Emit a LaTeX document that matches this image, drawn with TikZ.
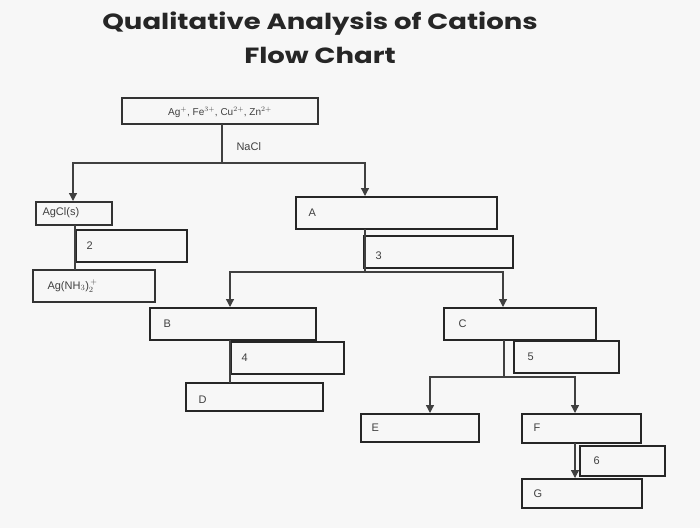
\documentclass[tikz,border=0pt]{standalone}
\usepackage{fontspec}
\setmainfont{Liberation Sans}
\newfontfamily\titlefont{Poppins}
\usetikzlibrary{arrows.meta}
\begin{document}
\begin{tikzpicture}[x=1pt,y=-1pt,
  thin box/.style={draw=black!80,line width=1.2pt},
  thick box/.style={draw=black!85,line width=2.2pt},
  lbl/.style={font=\fontsize{11}{13}\selectfont,text=black!75,anchor=west},
  conn/.style={draw=black!75,line width=1.3pt},
  arr/.style={conn,-{Triangle[length=8pt,width=8pt]}},
  ttl/.style={font=\titlefont\bfseries\fontsize{22}{26}\selectfont,text=black!85}]
\fill[gray!6] (0,0) rectangle (700,528);
\useasboundingbox (0,0) rectangle (700,528);
\node[ttl] (t1) at (320,24) {\scalebox{1.25}[1]{Qualitative Analysis of Cations}};
\node[ttl] (t2) at (320,55) {\scalebox{1.25}[1]{Flow Chart}};
% boxes
\draw[thin box] (122,98) rectangle (318,124);
\node[font=\fontsize{10}{12}\selectfont,text=black!75] (top) at (220,112) {Ag$^{+}$, Fe$^{3+}$, Cu$^{2+}$, Zn$^{2+}$};
\node[lbl] (nacl) at (233,147) {NaCl};
\draw[thin box] (36,202) rectangle (112,225); \node[lbl] (agcl) at (39,213) {AgCl(s)};
\draw[thick box] (76,230) rectangle (187,262); \node[lbl] (b2) at (83,246) {2};
\draw[thin box] (33,270) rectangle (155,302); \node[lbl] (agnh) at (44,286) {Ag(NH$_3$)$_2^{\,+}$};
\draw[thick box] (296,197) rectangle (497,229); \node[lbl] (bA) at (305,213) {A};
\draw[thick box] (364,236) rectangle (513,268); \node[lbl] (b3) at (372,256) {3};
\draw[thick box] (150,308) rectangle (316,340); \node[lbl] (bB) at (160,324) {B};
\draw[thick box] (444,308) rectangle (596,340); \node[lbl] (bC) at (455,324) {C};
\draw[thick box] (231,342) rectangle (344,374); \node[lbl] (b4) at (238,358) {4};
\draw[thick box] (514,341) rectangle (619,373); \node[lbl] (b5) at (524,357) {5};
\draw[thick box] (186,383) rectangle (323,411); \node[lbl] (bD) at (195,400) {D};
\draw[thick box] (361,414) rectangle (479,442); \node[lbl] (bE) at (368,428) {E};
\draw[thick box] (522,414) rectangle (641,443); \node[lbl] (bF) at (530,428) {F};
\draw[thick box] (580,446) rectangle (665,476); \node[lbl] (b6) at (590,461) {6};
\draw[thick box] (522,479) rectangle (642,508); \node[lbl] (bG) at (530,494) {G};
% connectors
\coordinate (j1) at (222,163);
\draw[conn] (222,124) -- (j1);
\draw[arr] (j1) -- (73,163) -- (73,201);
\draw[arr] (j1) -- (365,163) -- (365,196);
\draw[conn] (75,225) -- (75,270);
\coordinate (j2) at (365,272);
\draw[conn] (365,229) -- (j2);
\draw[arr] (j2) -- (230,272) -- (230,307);
\draw[arr] (j2) -- (503,272) -- (503,307);
\draw[conn] (230,340) -- (230,383);
\coordinate (j3) at (504,377);
\draw[conn] (504,340) -- (j3);
\draw[arr] (j3) -- (430,377) -- (430,413);
\draw[arr] (j3) -- (575,377) -- (575,413);
\draw[arr] (575,443) -- (575,478);
\end{tikzpicture}
\end{document}
